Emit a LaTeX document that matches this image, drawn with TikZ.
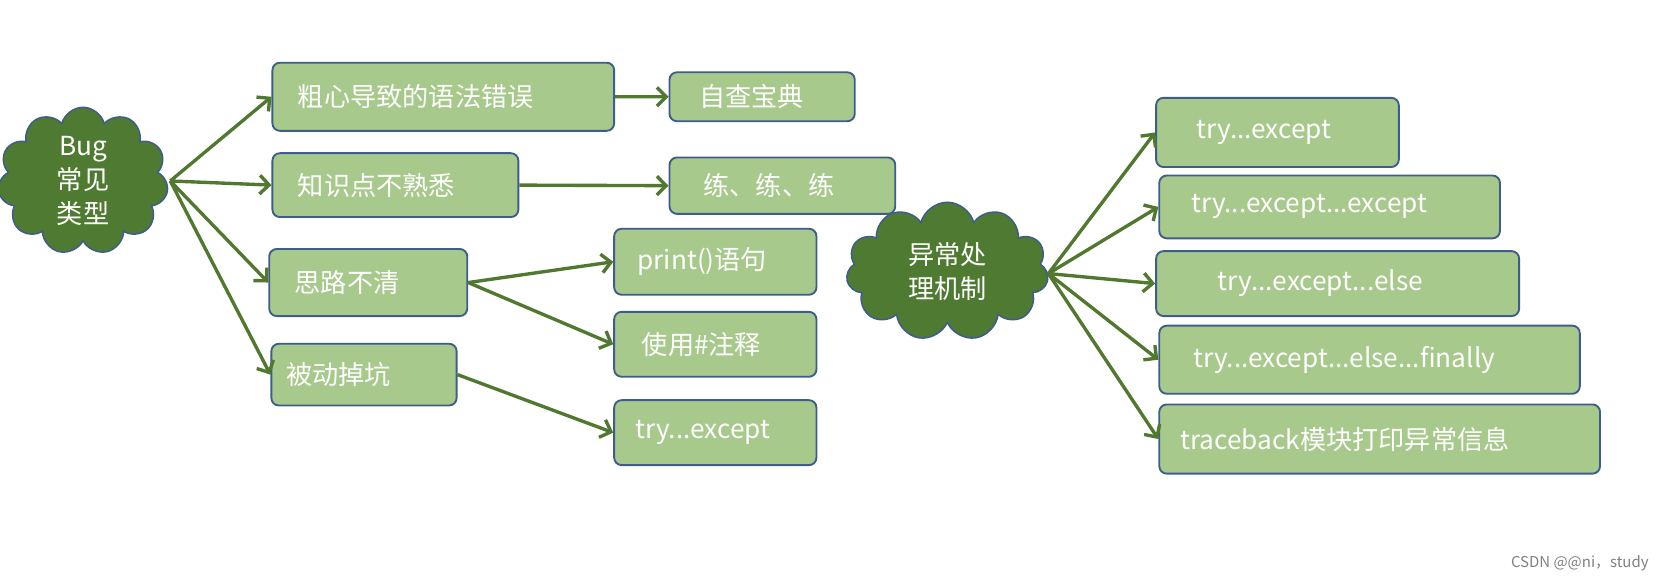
\documentclass[tikz,border=0pt]{standalone}
\usepackage{fontspec}
\setmainfont{Noto Sans CJK SC}
\usetikzlibrary{shapes.symbols,arrows.meta}
\definecolor{boxg}{HTML}{A7C98B}
\definecolor{bord}{HTML}{3E5C8C}
\definecolor{arr}{HTML}{50792F}
\definecolor{cl}{HTML}{4F7A32}
\newcommand{\bx}[7]{\node[box,text width={(#4-#2-2*#7)*0.02cm},inner xsep={#7*0.02cm},minimum height={(#5-#3)*0.02cm}] (#1) at (#2*0.02,-#3*0.02) {#6};}
\begin{document}
\begin{tikzpicture}[
  box/.style={draw=bord,fill=boxg,rounded corners=4pt,line width=1pt,text=white,anchor=north west,align=left,inner ysep=0pt,font=\fontsize{14}{17}\selectfont},
  cld/.style={cloud,cloud puffs=11,draw=bord,fill=cl,line width=0.8pt,text=white,align=center,font=\fontsize{14}{18}\selectfont,inner sep=0pt},
  ar/.style={draw=arr,line width=1.8pt,-{Straight Barb[length=5pt,width=10pt]}}]
\useasboundingbox (0,0) rectangle (31.36,-10.94);
\node[cld,minimum width=3.2cm,minimum height=2.6cm] (bug) at (1.56,-3.4) {Bug\\常见\\类型};
\node[cld,minimum width=3.8cm,minimum height=2.6cm] (exc) at (17.8,-5.1) {异常处\\理机制};
\bx{a1}{255}{58}{576}{122}{粗心导致的语法错误}{24}
\bx{a2}{255}{143}{486}{203}{知识点不熟悉}{24}
\bx{a3}{252}{233}{438}{296}{思路不清}{24}
\bx{a4}{254}{322}{428}{380}{被动掉坑}{14}
\bx{b1}{628}{67}{802}{113}{自查宝典}{28}
\bx{b2}{628}{147}{840}{200}{练、练、练}{32}
\bx{b3}{576}{214}{766}{276}{print()语句}{22}
\bx{b4}{576}{292}{766}{353}{使用\#注释}{26}
\bx{b5}{576}{375}{766}{436}{try...except}{20}
\bx{c1}{1085}{91}{1313}{156}{try...except}{38}
\bx{c2}{1088}{164}{1408}{223}{try...except...except}{30}
\bx{c3}{1085}{235}{1426}{296}{try...except...else}{58}
\bx{c4}{1088}{305}{1483}{369}{try...except...else...finally}{32}
\bx{c5}{1088}{379}{1502}{444}{traceback模块打印异常信息}{20}
\coordinate (bo) at (3.2,-3.4);
\coordinate (eo) at (19.7,-5.14);
\draw[ar] (bo) -- (a1.west);
\draw[ar] (bo) -- (a2.west);
\draw[ar] (bo) -- (a3.west);
\draw[ar] (bo) -- (a4.west);
\draw[ar] (a1.east) -- (b1.west);
\draw[ar] (a2.east) -- (b2.west);
\draw[ar] (a3.east) -- (b3.west);
\draw[ar] (a3.east) -- (b4.west);
\draw[ar] (a4.east) -- (b5.west);
\foreach \c in {c1,c2,c3,c4,c5} \draw[ar] (eo) -- (\c.west);
\node[anchor=south east,text=gray,font=\fontsize{8}{10}\selectfont] (wm) at (31.1,-10.85) {CSDN @@ni，study};
\end{tikzpicture}
\end{document}
